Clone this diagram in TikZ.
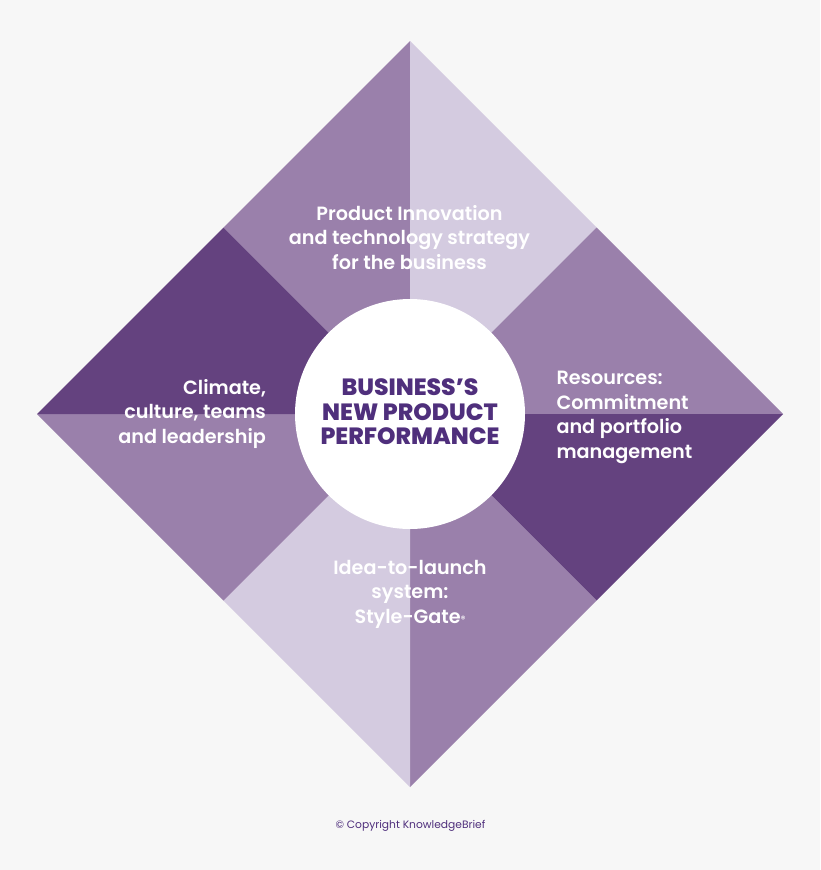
\documentclass[tikz,border=0pt]{standalone}
\usepackage{fontspec}
\setmainfont{Poppins}
\newfontfamily\hubfont{Poppins ExtraBold}
\newfontfamily\sectorfont{Poppins SemiBold}
\definecolor{bgpage}{HTML}{F7F7F7}
\definecolor{darkpurple}{HTML}{64427F}
\definecolor{midpurple}{HTML}{9A80AB}
\definecolor{lightpurple}{HTML}{D4CBE0}
\definecolor{titlepurple}{HTML}{4F2F7C}
\begin{document}
\begin{tikzpicture}[x=1pt,y=-1pt,
  sectorlabel/.style={text=white,align=center,font=\fontsize{19.2}{24.5}\sectorfont},
  sidelabel/.style={sectorlabel,align=left},
  leftlabel/.style={sectorlabel,align=right},
  hublabel/.style={text=titlepurple,align=center,font=\fontsize{23.5}{24.5}\hubfont}]
\useasboundingbox (0,0) rectangle (820,870);
\fill[bgpage] (0,0) rectangle (820,870);
\coordinate (C) at (410,414);
\coordinate (T) at (410,41);
\coordinate (R) at (783,414);
\coordinate (B) at (410,787);
\coordinate (L) at (37,414);
\coordinate (TL) at (223.5,227.5);
\coordinate (TR) at (596.5,227.5);
\coordinate (BR) at (596.5,600.5);
\coordinate (BL) at (223.5,600.5);
% the eight sectors
\fill[midpurple] (C) -- (TL) -- (T) -- cycle;
\fill[lightpurple] (C) -- (T) -- (TR) -- cycle;
\fill[midpurple] (C) -- (TR) -- (R) -- cycle;
\fill[darkpurple] (C) -- (R) -- (BR) -- cycle;
\fill[midpurple] (C) -- (BR) -- (B) -- cycle;
\fill[lightpurple] (C) -- (B) -- (BL) -- cycle;
\fill[midpurple] (C) -- (BL) -- (L) -- cycle;
\fill[darkpurple] (C) -- (L) -- (TL) -- cycle;
\node[circle,fill=white,minimum size=230pt,inner sep=0pt] (hub) at (C) {};
\node[hublabel] (hubtext) at (410,412) {BUSINESS’S\\NEW PRODUCT\\PERFORMANCE};
\node[sectorlabel] (topsector) at (409.5,237.5) {Product Innovation\\and technology strategy\\for the business};
\node[sidelabel,anchor=west] (rightsector) at (553,417.5) {Resources:\\Commitment\\and portfolio\\management};
\node[sectorlabel] (bottomsector) at (410,594) {Idea-to-launch\\system:\\Style-Gate{\fontsize{9}{9}\selectfont\raisebox{1pt}{®}}};
\node[leftlabel,anchor=east] (leftsector) at (269.5,414) {Climate,\\culture, teams\\and leadership};
\node[text=titlepurple,font=\fontsize{10.7}{14}\selectfont] (copyright) at (410.5,826) {© Copyright KnowledgeBrief};
\end{tikzpicture}
\end{document}
